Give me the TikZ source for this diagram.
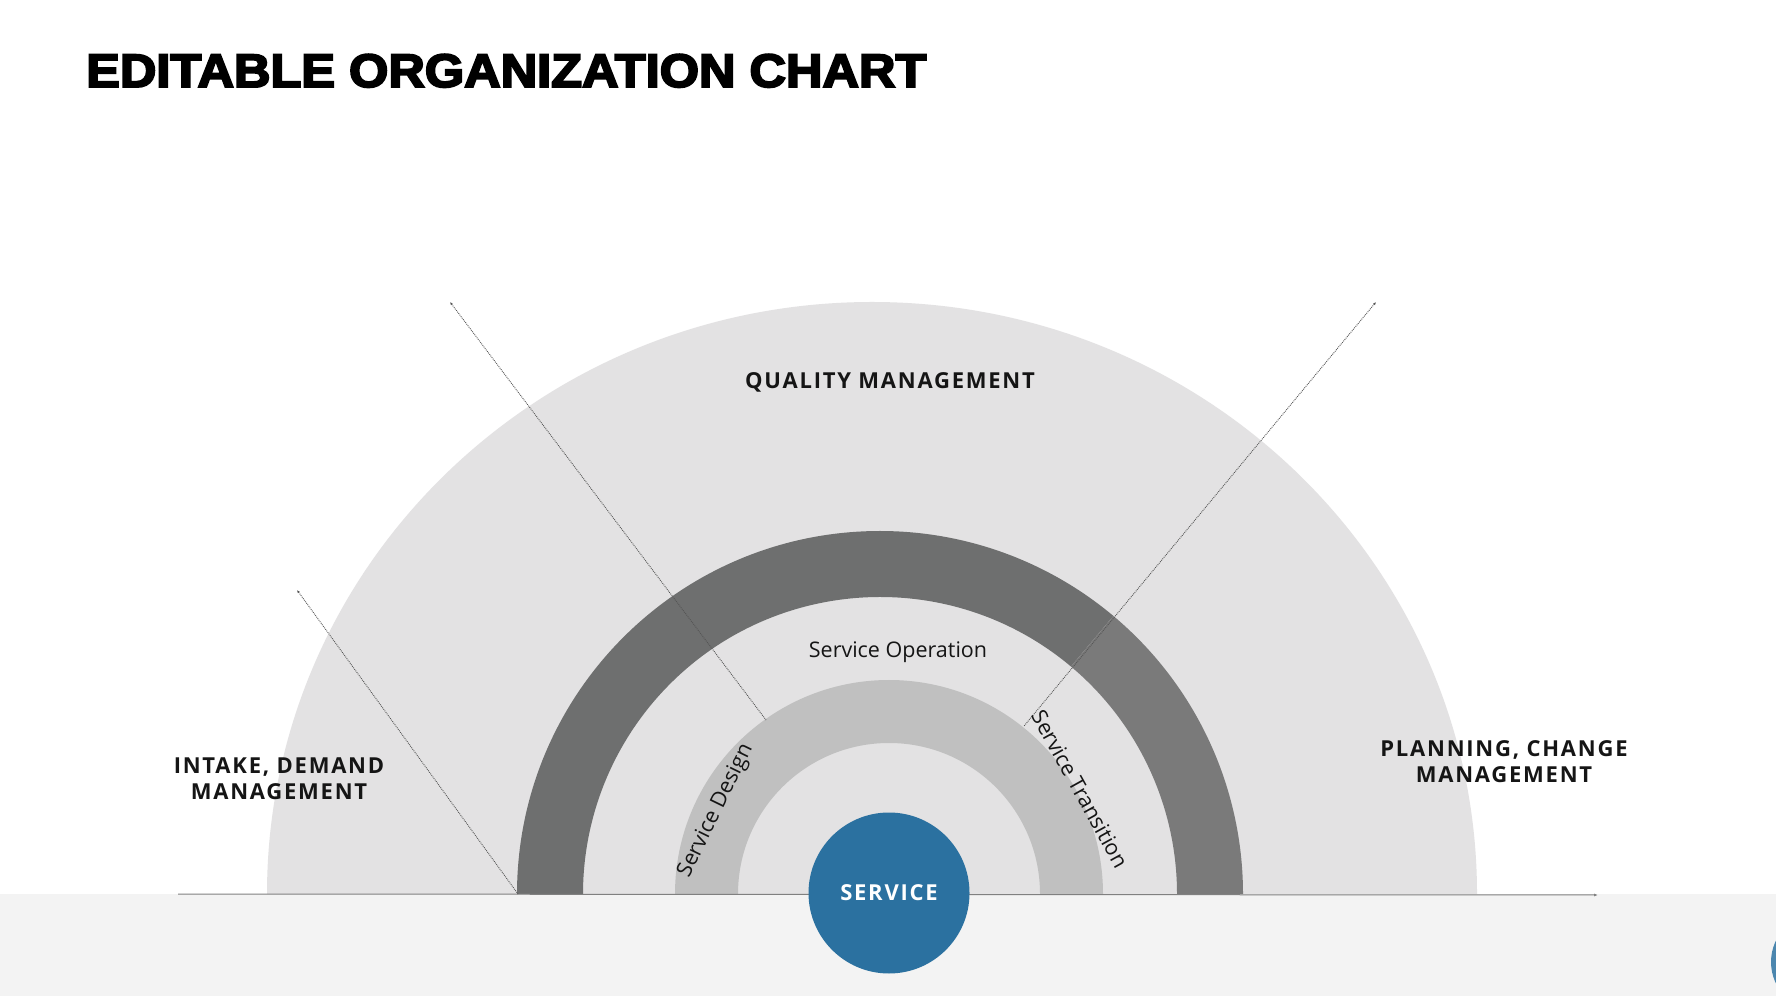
\documentclass[tikz,border=0pt]{standalone}
\usepackage{fontspec}
\setmainfont{Open Sans}
\newfontfamily\titlefont[FakeBold=4]{Liberation Sans Bold}
\newfontfamily\capsfont[LetterSpace=8]{Open Sans}
\usetikzlibrary{arrows.meta}

\definecolor{bandgray}{HTML}{F3F3F3}
\definecolor{outergray}{HTML}{E3E2E3}
\definecolor{ringdark}{HTML}{6E6F6F}
\definecolor{ringlight}{HTML}{7A7A7A}
\definecolor{innergray}{HTML}{C0C0C0}
\definecolor{serviceblue}{HTML}{2B71A0}
\definecolor{labeltext}{HTML}{151515}
\definecolor{guidegray}{HTML}{555555}

\begin{document}
\begin{tikzpicture}[x=1pt,y=1pt]

  % Define styles for labels, guides and the centre circle
  \tikzset{
    grouplabel/.style={font=\capsfont\bfseries\fontsize{22}{26}\selectfont, align=center, text=labeltext},
    ringlabel/.style={font=\fontsize{21.5}{24}\selectfont, text=labeltext},
    guide/.style={densely dotted, draw=guidegray, line width=0.9pt},
    axisline/.style={draw=gray, line width=1pt},
    servicecircle/.style={circle, fill=serviceblue, minimum size=161pt, inner sep=0pt, text=white,
      font=\capsfont\bfseries\fontsize{22}{26}\selectfont}
  }

  \useasboundingbox (0,0) rectangle (1776,996);
  \fill[white] (0,0) rectangle (1776,996);
  \fill[bandgray] (0,0) rectangle (1776,102);

  % Half rings
  \fill[outergray] (267,102) arc[start angle=180, end angle=0, x radius=605, y radius=592] -- cycle;
  \fill[ringdark] ([shift={(180:363)}]880,102) arc[start angle=180, end angle=50, radius=363]
    -- ([shift={(50:297)}]880,102) arc[start angle=50, end angle=180, radius=297] -- cycle;
  \fill[ringlight] ([shift={(50:363)}]880,102) arc[start angle=50, end angle=0, radius=363]
    -- ([shift={(0:297)}]880,102) arc[start angle=0, end angle=50, radius=297] -- cycle;
  \fill[innergray] ([shift={(180:214)}]889,102) arc[start angle=180, end angle=0, radius=214]
    -- ([shift={(0:151)}]889,102) arc[start angle=0, end angle=180, radius=151] -- cycle;

  % Axis and guide lines
  \coordinate (axisL) at (178,102);
  \coordinate (axisR) at (1598,101);
  \draw[axisline, -{Latex[length=4pt, width=3pt]}] (axisL) -- (axisR);

  \coordinate (designTop) at (450,694);
  \coordinate (designEnd) at (766,276);
  \coordinate (transTop) at (1376,694);
  \coordinate (transEnd) at (1024,270);
  \coordinate (intakeTop) at (297,406);
  \coordinate (intakeEnd) at (518,102);
  \draw[guide, {Latex[length=3pt, width=2.5pt]}-] (designTop) -- (designEnd);
  \draw[guide, {Latex[length=3pt, width=2.5pt]}-] (transTop) -- (transEnd);
  \draw[guide, {Latex[length=3pt, width=2.5pt]}-] (intakeTop) -- (intakeEnd);

  % Centre circle and the one cut off at the edge
  \node[servicecircle] (service) at (889,103) {SERVICE};
  \fill[serviceblue!85!white] (1820,34) circle[radius=49];

  % Labels
  \node[anchor=base west, inner sep=0pt, font=\titlefont\fontsize{47}{50}\selectfont] (title) at (86,909)
    {\scalebox{1.075}[1]{EDITABLE ORGANIZATION CHART}};
  \node[grouplabel] (quality) at (890,614) {QUALITY MANAGEMENT};
  \node[grouplabel] (intake) at (279,217) {INTAKE, DEMAND\\MANAGEMENT};
  \node[grouplabel] (planning) at (1504,234) {PLANNING, CHANGE\\MANAGEMENT};
  \node[ringlabel] (operation) at (898,344) {Service Operation};
  \node[ringlabel, rotate=64] (design) at (716,185) {Service Design};
  \node[ringlabel, rotate=-61] (transition) at (1080,207) {Service Transition};

\end{tikzpicture}
\end{document}
